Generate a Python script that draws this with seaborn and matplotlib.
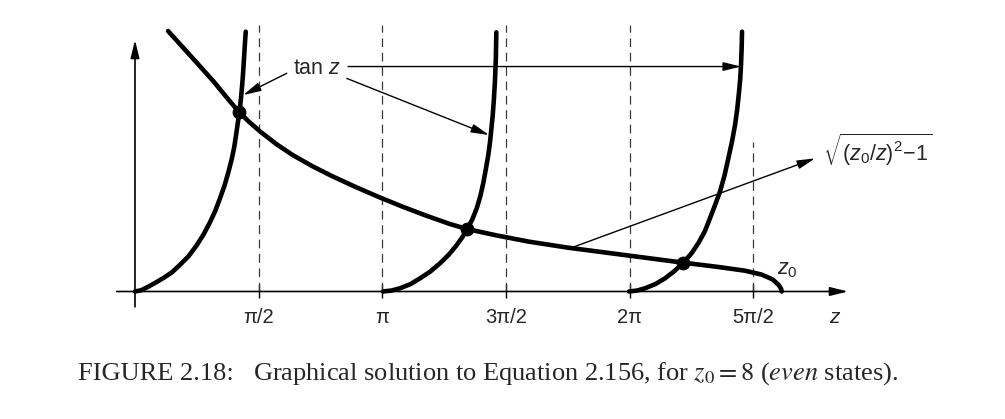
import numpy as np
import pandas as pd
import seaborn as sns
import matplotlib.pyplot as plt

# values: z in radians, y in plot units
tan1_z = [0.0, 0.08, 0.16, 0.25, 0.36, 0.47, 0.57, 0.68, 0.78, 0.87, 0.95, 1.02, 1.08, 1.14,
          1.19, 1.23, 1.26, 1.285, 1.305, 1.326, 1.345, 1.360, 1.374, 1.388, 1.398, 1.407]
tan1_y = [0.0, 0.04, 0.14, 0.26, 0.42, 0.60, 0.83, 1.10, 1.43, 1.78, 2.15, 2.52, 2.91, 3.33,
          3.76, 4.15, 4.50, 4.90, 5.25, 5.60, 6.00, 6.40, 6.85, 7.40, 7.80, 8.12]

tan2_z = [3.15, 3.26, 3.367, 3.50, 3.621, 3.75, 3.875, 3.99, 4.088, 4.16, 4.222, 4.285, 4.342,
          4.39, 4.426, 4.46, 4.489, 4.51, 4.527, 4.545, 4.56, 4.574, 4.585, 4.591]
tan2_y = [0.0, 0.03, 0.10, 0.23, 0.41, 0.62, 0.88, 1.16, 1.45, 1.70, 1.95, 2.25, 2.60,
          3.00, 3.40, 3.85, 4.27, 4.65, 5.05, 5.50, 6.00, 6.60, 7.30, 8.10]

tan3_z = [6.277, 6.38, 6.48, 6.61, 6.734, 6.85, 6.967, 7.07, 7.158, 7.24, 7.306, 7.37, 7.433,
          7.49, 7.539, 7.585, 7.624, 7.652, 7.675, 7.690, 7.700, 7.708, 7.713]
tan3_y = [0.0, 0.03, 0.10, 0.23, 0.41, 0.63, 0.90, 1.19, 1.51, 1.88, 2.29, 2.70, 3.12,
          3.62, 4.16, 4.68, 5.20, 5.70, 6.24, 6.65, 7.08, 7.60, 8.12]

root_z = [0.42, 0.70, 1.00, 1.20, 1.326, 1.45, 1.60, 1.80, 2.00, 2.25, 2.50, 2.80, 3.10, 3.40,
          3.70, 4.00, 4.222, 4.60, 5.00, 5.50, 6.00, 6.50, 6.967, 7.40, 7.75, 7.96, 8.10, 8.18,
          8.21, 8.217]
root_y = [8.14, 7.38, 6.56, 5.96, 5.60, 5.30, 4.98, 4.60, 4.27, 3.92, 3.61, 3.27, 2.95, 2.65,
          2.37, 2.11, 1.95, 1.75, 1.56, 1.37, 1.21, 1.05, 0.90, 0.77, 0.65, 0.53, 0.38, 0.20,
          0.08, 0.0]

# intersections (the even-state solutions)
sol_z = [1.326, 4.222, 6.967]
sol_y = [5.60, 1.95, 0.90]

tick_vals = [np.pi / 2, np.pi, 3 * np.pi / 2, 2 * np.pi, 5 * np.pi / 2]
tick_labels = ['π/2', 'π', '3π/2', '2π', '5π/2']
guide_tops = [8.33, 8.33, 8.33, 8.33, 4.67]

curves = pd.concat([
    pd.DataFrame({'curve': 'tan1', 'z': tan1_z, 'y': tan1_y}),
    pd.DataFrame({'curve': 'tan2', 'z': tan2_z, 'y': tan2_y}),
    pd.DataFrame({'curve': 'tan3', 'z': tan3_z, 'y': tan3_y}),
    pd.DataFrame({'curve': 'root', 'z': root_z, 'y': root_y}),
], ignore_index=True)
sols = pd.DataFrame({'z': sol_z, 'y': sol_y})

sns.set_theme(style='white')
plt.rcParams['font.family'] = ['Liberation Sans', 'DejaVu Sans']
plt.rcParams['mathtext.fontset'] = 'custom'
plt.rcParams['mathtext.rm'] = 'Liberation Sans'
plt.rcParams['mathtext.it'] = 'Liberation Sans:italic'

fig = plt.figure(figsize=(10.05, 4.19), dpi=100)
ax = fig.add_axes([0.0597, 0.18854, 0.9254, 0.78759])
ax.set_xlim(-0.953, 10.864)
ax.set_ylim(-1.516, 8.797)

# dashed guides at multiples of pi/2
for x, top in zip(tick_vals, guide_tops):
    ax.plot([x, x], [0, top], color='#3a3a3a', lw=0.9, dashes=(7, 4.5), zorder=1)

sns.lineplot(data=curves, x='z', y='y', units='curve', estimator=None, sort=False,
             color='black', lw=3.3, ax=ax, zorder=3)
sns.scatterplot(data=sols, x='z', y='y', color='black', s=85, edgecolor='black', ax=ax, zorder=4)

# axes drawn as arrows
arr = dict(arrowstyle='-|>,head_length=0.9,head_width=0.22', color='black', lw=1.2,
           shrinkA=0, shrinkB=0)
ax.annotate('', xy=(9.06, 0), xytext=(-0.233, 0), arrowprops=arr)
ax.annotate('', xy=(0, 7.86), xytext=(0, -0.48), arrowprops=arr)

for s in ax.spines.values():
    s.set_visible(False)
ax.spines['bottom'].set_position(('data', 0))
ax.set_xticks(tick_vals)
ax.set_xticklabels(tick_labels, fontsize=14.5)
ax.tick_params(axis='x', direction='inout', length=10, width=1.0, color='black', pad=7, bottom=True)
ax.set_yticks([])
ax.set_xlabel('')
ax.set_ylabel('')
ax.grid(False)
ax.text(8.896, -0.80, '$z$', fontsize=15, ha='center', va='center')

# annotations
thin = dict(arrowstyle='-|>,head_length=0.9,head_width=0.22', color='black', lw=1.0,
            shrinkA=0, shrinkB=0)
ax.text(2.313, 6.98, 'tan $z$', fontsize=15.5, ha='center', va='center')
ax.annotate('', xy=(1.376, 6.14), xytext=(1.928, 6.82), arrowprops=thin)
ax.annotate('', xy=(4.498, 4.89), xytext=(2.690, 6.66), arrowprops=thin)
ax.annotate('', xy=(7.700, 7.03), xytext=(2.707, 7.03), arrowprops=thin)
ax.annotate('', xy=(8.640, 4.16), xytext=(5.527, 1.35), arrowprops=thin)
ax.text(8.74, 4.42, r'$\sqrt{(z_0/z)^2\!-\!1}$', fontsize=15.5, ha='left', va='center')
ax.text(8.285, 0.69, '$z_0$', fontsize=15.5, ha='center', va='center')

# caption
fig.text(78 / 1005, 39 / 419, 'FIGURE 2.18:', fontsize=19, family='Liberation Serif', va='baseline')
fig.text(253 / 1005, 39 / 419, 'Graphical solution to Equation 2.156, for $z_0 = 8$ ($\\mathit{even}$ states).',
         fontsize=19, family='Liberation Serif', va='baseline', math_fontfamily='stix')

fig.savefig('out.png', dpi=100)
